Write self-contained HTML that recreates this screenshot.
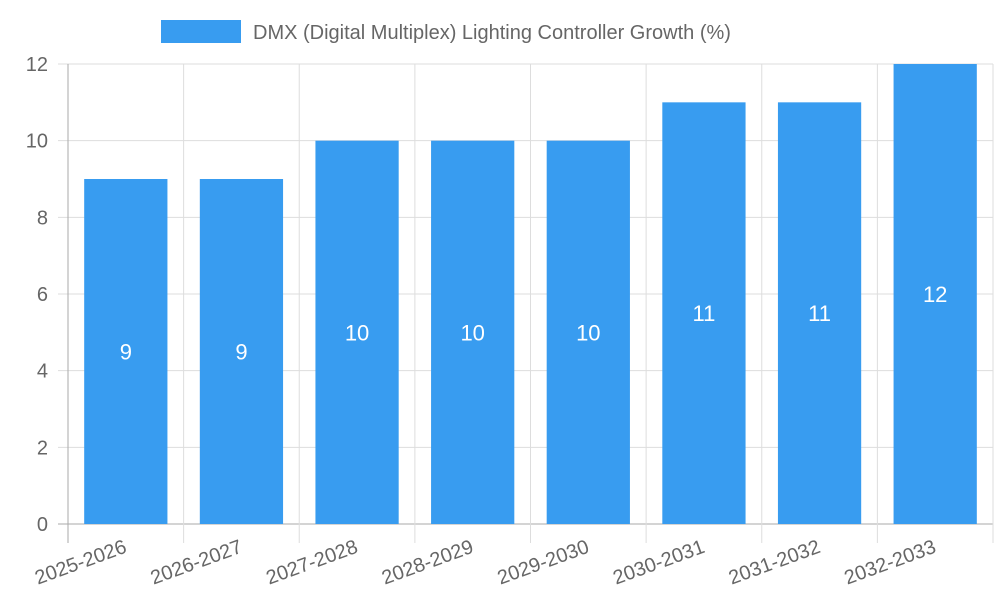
<!DOCTYPE html>
<html><head><meta charset="utf-8"><style>
body{margin:0;background:#fff;}
svg{display:block;font-family:"Liberation Sans",sans-serif;}
</style></head><body>
<svg id="chart" width="1000" height="600" viewBox="0 0 1000 600">
<g>
<rect x="161" y="20" width="80" height="23" fill="#389cf0"/>
<text x="253" y="39" font-size="20" fill="#666">DMX (Digital Multiplex) Lighting Controller Growth (%)</text>
</g>
<g id="grid"></g>
<g id="bars"></g>
<g id="axes"></g>
</svg>
<script>
const categories = ["2025-2026","2026-2027","2027-2028","2028-2029","2029-2030","2030-2031","2031-2032","2032-2033"];
const growth = [9,9,10,10,10,11,11,12];
const yTicks = [0,2,4,6,8,10,12];
const NS="http://www.w3.org/2000/svg";
const L=68,R=993,T=64,B=524,yMax=12;
const bw=(R-L)/categories.length;
const x=i=>L+i*bw;
const y=v=>B-(v/yMax)*(B-T);
function mk(tag,attrs,parent,txt){const e=document.createElementNS(NS,tag);for(const k in attrs)e.setAttribute(k,attrs[k]);if(txt!==undefined)e.textContent=txt;parent.appendChild(e);return e;}
const grid=document.getElementById('grid'),bars=document.getElementById('bars'),axes=document.getElementById('axes');
yTicks.forEach(t=>{
  const l=mk('line',{x1:58,x2:R,y1:y(t),y2:y(t),stroke:t===0?'#aaa':'#ddd','stroke-width':1},grid);
  
  
  const tx=mk('text',{x:48,y:y(t)+7,'text-anchor':'end','font-size':20,fill:'#666'},axes,String(t));
  
  
});
for(let i=0;i<=categories.length;i++){
  const l=mk('line',{x1:x(i),x2:x(i),y1:T,y2:B+19,stroke:i===0?'#aaa':'#ddd','stroke-width':1},grid);
  
  
}
categories.forEach((c,i)=>{
  const v=growth[i];
  const bx=x(i)+bw*0.14,w=bw*0.72;
  const r=mk('rect',{x:bx,y:y(v),width:w,height:B-y(v),fill:'#389cf0'},bars);
  
  
  const cx=x(i)+bw/2;
  const vt=mk('text',{x:cx,y:(y(v)+B)/2+8,'text-anchor':'middle','font-size':22,fill:'#fff'},bars,String(v));
  
  
  const lt=mk('text',{x:cx+2,y:552,'text-anchor':'end','font-size':20,fill:'#666',transform:`rotate(-20 ${cx+2} 552)`},axes,c);
  
  
});
</script>
</body></html>
